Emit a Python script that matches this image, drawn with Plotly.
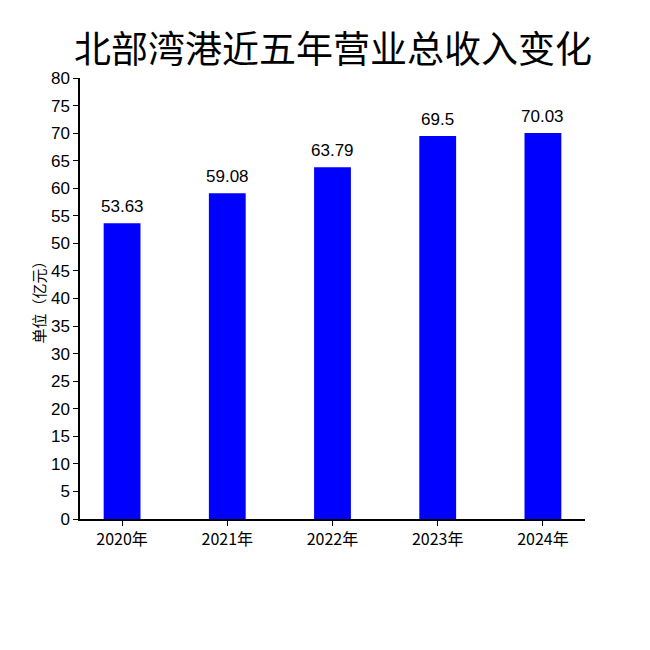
import plotly.graph_objects as go

years = ["2020年", "2021年", "2022年", "2023年", "2024年"]
revenue = [53.63, 59.08, 63.79, 69.5, 70.03]
value_labels = ["53.63", "59.08", "63.79", "69.5", "70.03"]

fig = go.Figure(go.Bar(
    x=years,
    y=revenue,
    marker=dict(color="#0000FF", line=dict(width=0)),
    width=0.35,
))

# value labels a bit above each bar
for yr, v, lab in zip(years, revenue, value_labels):
    fig.add_annotation(
        x=yr, y=v, text=lab, showarrow=False,
        yanchor="bottom", yshift=5,
        font=dict(size=17, color="black", family="Liberation Sans"),
    )

# page body adds 8px offset, so margins are trimmed to match the reference
fig.update_layout(
    width=650,
    height=650,
    paper_bgcolor="white",
    plot_bgcolor="white",
    showlegend=False,
    margin=dict(l=72, r=73, t=70, b=139),
    title=dict(
        text="北部湾港近五年营业总收入变化",
        x=0.5, xanchor="center",
        y=0.935, yanchor="middle",
        font=dict(family="Noto Sans CJK SC", size=37, color="black"),
    ),
    font=dict(family="Liberation Sans", color="black"),
)

fig.update_xaxes(
    range=[-0.4, 4.4],
    showline=True, linecolor="black", linewidth=1.5,
    ticks="outside", ticklen=5, tickcolor="black",
    tickfont=dict(size=16, family="Noto Sans CJK SC"),
    showgrid=False,
)
fig.update_yaxes(
    range=[0, 80],
    dtick=5,
    showline=True, linecolor="black", linewidth=1.5,
    ticks="outside", ticklen=5, tickcolor="black",
    tickfont=dict(size=17),
    showgrid=False, zeroline=False,
    title=dict(text="单位（亿元）", font=dict(size=15, family="Noto Sans CJK SC"), standoff=2),
)

fig.write_html("out.html")
